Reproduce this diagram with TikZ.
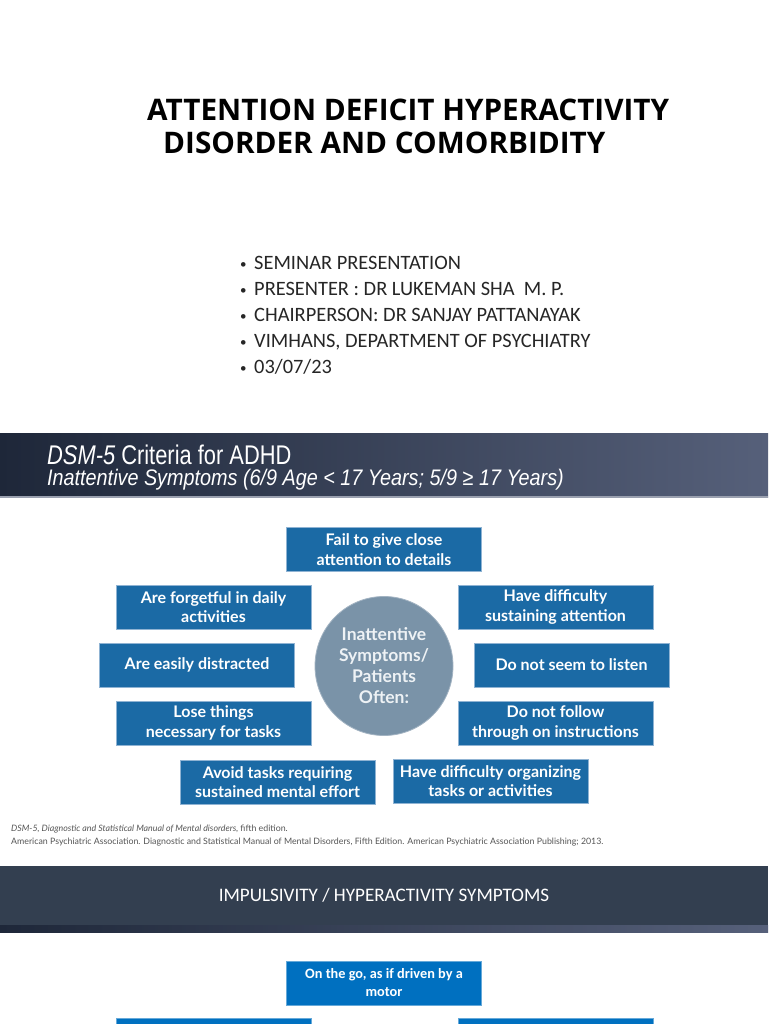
\documentclass[tikz,border=0pt]{standalone}
\usepackage{fontspec}
\setmainfont{Carlito}
\newfontfamily\titlefont{Open Sans}
\newfontfamily\boxfont{Lato}
\newfontfamily\hdrfont{Liberation Sans}
\definecolor{hdrL}{HTML}{1E2739}
\definecolor{hdrR}{HTML}{56607A}
\definecolor{boxblue}{HTML}{1B6AA5}
\definecolor{boxedge}{HTML}{8FB3D3}
\definecolor{ellblue}{HTML}{7A93A8}
\definecolor{ellfg}{HTML}{EEF2F5}
\definecolor{slate}{HTML}{333F50}
\definecolor{msblue}{HTML}{0070C0}
\definecolor{footgray}{HTML}{555555}
\tikzset{
  crit/.style={rectangle, fill=boxblue, draw=boxedge, line width=0.8pt,
    minimum width=195pt, minimum height=44pt, inner sep=2pt, align=center,
    text=white, font=\boxfont\bfseries\fontsize{16}{19.5}\selectfont},
  hub/.style={ellipse, fill=ellblue, draw=ellblue!70!white, line width=0.8pt,
    minimum width=138pt, minimum height=139pt, inner sep=0pt, align=center,
    text=ellfg, font=\boxfont\bfseries\fontsize{17.5}{21}\selectfont},
  imp/.style={rectangle, fill=msblue, draw=msblue!60!white, line width=0.6pt,
    minimum width=195pt, minimum height=44pt, inner sep=2pt, align=center,
    text=white, font=\bfseries\fontsize{14.3}{18}\selectfont},
  ttl/.style={anchor=base west, inner sep=0pt, font=\titlefont\bfseries\fontsize{29.7}{32}\selectfont},
  bul/.style={anchor=base west, inner sep=0pt, text=black!85, font=\fontsize{20.4}{22}\selectfont},
  dot/.style={anchor=base west, inner sep=0pt, text=black!85, font=\fontsize{13}{14}\selectfont},
  foot/.style={anchor=base west, inner sep=0pt, text=footgray, font=\boxfont\fontsize{8.8}{10}\selectfont},
}
\usetikzlibrary{shapes.geometric}
\begin{document}
\begin{tikzpicture}[x=1pt,y=-1pt]
\useasboundingbox (0,0) rectangle (768,1024);
\clip (0,0) rectangle (768,1024);
\fill[white] (0,0) rectangle (768,1024);
% ---------- slide 1 ----------
\node[ttl] (t1) at (147,121) {ATTENTION DEFICIT HYPERACTIVITY};
\node[ttl] (t2) at (163,154) {DISORDER AND COMORBIDITY};
\node[bul] (b0) at (254,269) {SEMINAR PRESENTATION};
\node[bul] (b1) at (254,295) {PRESENTER : DR LUKEMAN SHA\ \ M. P.};
\node[bul] (b2) at (254,321) {CHAIRPERSON: DR SANJAY PATTANAYAK};
\node[bul] (b3) at (254,347) {VIMHANS, DEPARTMENT OF PSYCHIATRY};
\node[bul] (b4) at (254,373) {03/07/23};
\foreach \i in {0,...,4}{
  \node[dot] (d\i) at (240,268+26*\i) {•};
}
% ---------- slide 2 ----------
\shade[left color=hdrL, right color=hdrR] (0,433) rectangle (768,497);
\fill[hdrR!60!white] (0,495.5) rectangle (768,497.5);
\node[anchor=base west, inner sep=0pt, text=white] (h1) at (47,464)
  {\scalebox{0.81}[1]{\hdrfont\fontsize{27}{30}\selectfont\itshape DSM-5\upshape\ Criteria for ADHD}};
\node[anchor=base west, inner sep=0pt, text=white] (h2) at (47,485)
  {\scalebox{0.88}[1]{\hdrfont\itshape\fontsize{22.5}{26}\selectfont Inattentive Symptoms (6/9 Age < 17 Years; 5/9 ≥ 17 Years)}};
\node[hub] (hub) at (384,666) {Inattentive\\Symptoms/\\Patients\\Often:};
\node[crit] (fail) at (384,549.5) {Fail to give close\\attention to details};
\node[crit] (forget) at (213.5,607) {Are forgetful in daily\\activities};
\node[crit] (sustain) at (555.5,607) {Have difficulty\\sustaining attention};
\node[crit] (distract) at (197,665) {Are easily distracted};
\node[crit] (listen) at (571.5,665) {Do not seem to listen};
\node[crit] (lose) at (213.5,723) {Lose things\\necessary for tasks};
\node[crit] (follow) at (555.5,723) {Do not follow\\through on instructions};
\node[crit] (avoid) at (277.5,782) {Avoid tasks requiring\\sustained mental effort};
\node[crit] (organize) at (490.5,781) {Have difficulty organizing\\tasks or activities};
\node[foot] (f1) at (11,831) {\itshape DSM-5, Diagnostic and Statistical Manual of Mental disorders,\upshape\ fifth edition.};
\node[foot] (f2) at (11,844) {American Psychiatric Association. Diagnostic and Statistical Manual of Mental Disorders, Fifth Edition. American Psychiatric Association Publishing; 2013.};
% ---------- slide 3 ----------
\fill[slate] (0,866) rectangle (768,925);
\shade[left color=hdrL, right color=hdrR] (0,925) rectangle (768,932);
\node[anchor=base, inner sep=0pt, text=white, font=\fontsize{19.1}{22}\selectfont] (h3) at (384,901) {IMPULSIVITY / HYPERACTIVITY SYMPTOMS};
\node[imp] (go) at (384,983) {On the go, as if driven by a\\motor};
\node[imp] (bl) at (213.5,1040) {};
\node[imp] (br) at (555.5,1040) {};
\end{tikzpicture}
\end{document}
